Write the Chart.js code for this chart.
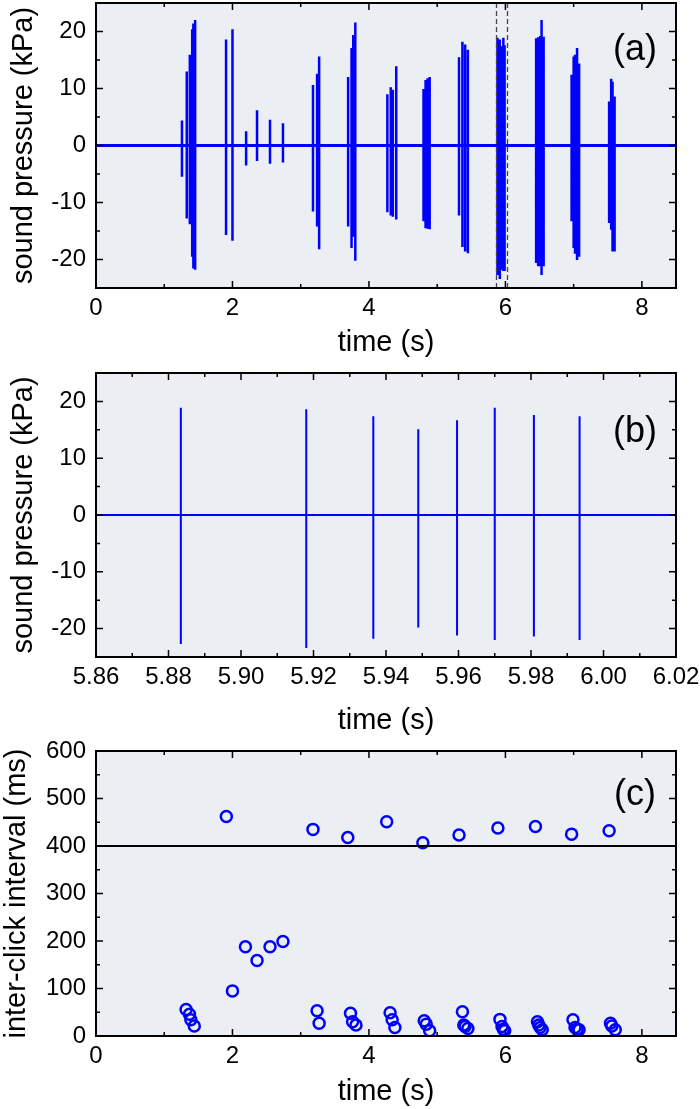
<!DOCTYPE html>
<html>
<head>
<meta charset="utf-8">
<script src="https://cdn.jsdelivr.net/npm/chart.js@4.4.1/dist/chart.umd.min.js"></script>
<style>
  body { margin: 0; background: #fff; }
  #wrap { position: relative; width: 700px; height: 1109px; }
  canvas { position: absolute; left: 0; }
</style>
</head>
<body>
<div id="wrap">
  <canvas id="graficoA" width="700" height="360" style="top:0px"></canvas>
  <canvas id="graficoB" width="700" height="380" style="top:360px"></canvas>
  <canvas id="graficoC" width="700" height="369" style="top:740px"></canvas>
</div>
<script>
// (a) clicks over the whole recording: time (s), peak and trough (kPa)
const clickTimesA = [1.26, 1.33, 1.375, 1.41, 1.427, 1.453, 1.906, 2.00, 2.20, 2.36, 2.55, 2.74,
    3.18, 3.24, 3.27, 3.695, 3.745, 3.77, 3.80, 4.27, 4.32, 4.35, 4.40, 4.80, 4.83, 4.86, 4.89,
    5.32, 5.37, 5.41, 5.45, 5.883, 5.918, 5.937, 5.949, 5.960, 5.970, 5.981, 5.993,
    6.45, 6.48, 6.51, 6.53, 6.56, 6.97, 7.00, 7.02, 7.05, 7.08, 7.52, 7.55, 7.57, 7.60];
const clickMaxA = [4.4, 13.0, 15.9, 20.4, 21.4, 22.0, 18.6, 20.4, 2.5, 6.2, 4.5, 3.9,
    10.6, 12.6, 15.6, 12.0, 17.1, 19.4, 21.6, 9.0, 10.2, 9.8, 13.9, 9.9, 11.5, 11.8, 12.0,
    15.5, 18.2, 17.7, 16.8, 18.9, 18.6, 17.4, 15.1, 16.7, 18.9, 17.6, 17.4,
    18.8, 19.0, 19.2, 22.0, 19.1, 12.4, 15.6, 15.9, 17.1, 14.4, 7.7, 11.7, 11.2, 8.6];
const clickMinA = [-5.5, -12.8, -13.8, -19.5, -21.6, -21.8, -15.7, -16.7, -3.5, -2.7, -3.2, -3.0,
    -11.6, -14.2, -18.2, -14.2, -18.0, -16.0, -20.2, -11.7, -12.3, -12.5, -13.0, -13.3, -14.5, -14.6, -14.7,
    -12.3, -17.8, -18.6, -18.9, -22.7, -23.4, -21.8, -19.8, -21.2, -22.0, -21.4, -22.0,
    -20.6, -21.2, -21.2, -22.7, -21.2, -13.3, -18.0, -19.0, -20.1, -19.5, -13.6, -14.8, -18.6, -18.6];
const zoomWindow = [5.86, 6.02];

// (b) zoom on one burst
const clickTimesB = [5.8834, 5.9180, 5.9365, 5.9489, 5.9596, 5.9700, 5.9808, 5.9934];
const clickMaxB = [18.9, 18.6, 17.4, 15.1, 16.7, 18.9, 17.6, 17.4];
const clickMinB = [-22.7, -23.4, -21.8, -19.8, -21.2, -22.0, -21.4, -22.0];

// (c) inter-click intervals
const intervalTimes = [1.32, 1.37, 1.39, 1.44, 1.91, 2.00, 2.19, 2.36, 2.55, 2.74, 3.18, 3.24, 3.27,
    3.69, 3.73, 3.76, 3.81, 4.26, 4.31, 4.34, 4.38, 4.79, 4.81, 4.84, 4.89, 5.32, 5.37, 5.39, 5.41, 5.45,
    5.89, 5.92, 5.95, 5.97, 5.99, 6.44, 6.47, 6.49, 6.51, 6.54, 6.97, 6.99, 7.02, 7.05, 7.08,
    7.52, 7.54, 7.56, 7.61];
const intervalValues = [56, 46, 34, 21, 462, 95, 188, 159, 188, 199, 435, 53, 27,
    418, 48, 30, 23, 451, 49, 34, 18, 407, 32, 25, 11, 423, 51, 23, 20, 16,
    438, 35, 20, 14, 11, 441, 30, 23, 18, 13, 425, 34, 18, 14, 13,
    432, 27, 21, 13];
const thresholdValue = 400;

// tick labels
const timeTicks = [0, 2, 4, 6, 8];
const zoomTimeTicks = [5.86, 5.88, 5.90, 5.92, 5.94, 5.96, 5.98, 6.00, 6.02];
const pressureTicks = [-20, -10, 0, 10, 20];
const intervalTicks = [0, 100, 200, 300, 400, 500, 600];

const azul = "#0000ff";
const fundo = "#ebeef3";

Chart.defaults.font.family = "'Liberation Sans', Arial, sans-serif";
Chart.defaults.color = "#000";

// frame, inward ticks (major + minor), panel letter and dashed window
const molduraPlugin = {
    id: "moldura",
    beforeDraw(chart) {
        const { ctx, chartArea: a } = chart;
        ctx.save();
        ctx.fillStyle = fundo;
        ctx.fillRect(a.left, a.top, a.right - a.left, a.bottom - a.top);
        ctx.restore();
    },
    afterDatasetsDraw(chart, args, opts) {
        if (!opts.tracejado) return;
        const { ctx, chartArea: a, scales } = chart;
        ctx.save();
        ctx.strokeStyle = "#444";
        ctx.lineWidth = 1.3;
        ctx.setLineDash([5, 3]);
        opts.tracejado.forEach(v => {
            const px = Math.round(scales.x.getPixelForValue(v)) + 0.5;
            ctx.beginPath();
            ctx.moveTo(px, a.top);
            ctx.lineTo(px, a.bottom);
            ctx.stroke();
        });
        ctx.restore();
    },
    afterDraw(chart, args, opts) {
        const { ctx, chartArea: a, scales } = chart;
        ctx.save();
        ctx.strokeStyle = "#000";
        ctx.lineWidth = 1.5;
        ctx.beginPath();
        marcas(scales.x).forEach(([v, len]) => {
            const px = scales.x.getPixelForValue(v);
            ctx.moveTo(px, a.bottom); ctx.lineTo(px, a.bottom - len);
            ctx.moveTo(px, a.top); ctx.lineTo(px, a.top + len);
        });
        marcas(scales.y).forEach(([v, len]) => {
            const py = scales.y.getPixelForValue(v);
            ctx.moveTo(a.left, py); ctx.lineTo(a.left + len, py);
            ctx.moveTo(a.right, py); ctx.lineTo(a.right - len, py);
        });
        ctx.stroke();
        ctx.lineWidth = 2;
        ctx.strokeRect(a.left, a.top, a.right - a.left, a.bottom - a.top);

        ctx.fillStyle = "#000";
        ctx.font = "36px 'Liberation Sans', Arial, sans-serif";
        ctx.textAlign = "center";
        ctx.textBaseline = "middle";
        ctx.fillText(opts.rotulo, a.right - 41, a.top + opts.rotuloY);
        ctx.restore();
    }
};

function marcas(scale) {
    const valores = scale.ticks.map(t => t.value);
    const lista = valores.map(v => [v, 7]);
    for (let i = 0; i < valores.length - 1; i++) {
        lista.push([(valores[i] + valores[i + 1]) / 2, 4]);
    }
    return lista;
}

function montarOnda(times, maxs, mins, tMin, tMax) {
    const pontos = [{ x: tMin, y: 0 }];
    times.forEach((t, i) => {
        pontos.push({ x: t, y: 0 }, { x: t, y: maxs[i] }, { x: t, y: mins[i] }, { x: t, y: 0 });
    });
    pontos.push({ x: tMax, y: 0 });
    return pontos;
}

function eixoX(min, max, valoresTicks, altura, tituloBottom, casas) {
    return {
        type: "linear",
        min: min,
        max: max,
        afterBuildTicks: scale => {
            scale.ticks = valoresTicks.map(v => ({ value: v }));
        },
        afterFit: scale => {
            scale.height = altura;
            scale.paddingLeft = 0;
            scale.paddingRight = 0;
        },
        ticks: {
            padding: 6,
            font: { size: 24 },
            callback: v => casas ? Number(v).toFixed(casas) : String(v)
        },
        grid: { display: false, drawTicks: false },
        border: { display: false },
        title: {
            display: true,
            text: "time (s)",
            font: { size: 29 },
            padding: { top: 0, bottom: tituloBottom }
        }
    };
}

function eixoY(min, max, valoresTicks, texto, tituloTop) {
    return {
        type: "linear",
        min: min,
        max: max,
        afterBuildTicks: scale => {
            scale.ticks = valoresTicks.map(v => ({ value: v }));
        },
        afterFit: scale => {
            scale.width = 96;
            scale.paddingTop = 0;
            scale.paddingBottom = 0;
        },
        ticks: {
            padding: 10,
            font: { size: 24 },
            callback: v => String(v)
        },
        grid: { display: false, drawTicks: false },
        border: { display: false },
        title: {
            display: true,
            text: texto,
            font: { size: 29 },
            padding: { top: tituloTop, bottom: 0 }
        }
    };
}

function opcoesBase(padTop, scales, moldura) {
    return {
        responsive: false,
        animation: false,
        events: [],
        layout: { padding: { top: padTop, right: 24, bottom: 0, left: 0 } },
        plugins: {
            legend: { display: false },
            tooltip: { enabled: false },
            moldura: moldura
        },
        scales: scales
    };
}

function criarGraficoA() {
    const ctx = document.getElementById("graficoA").getContext("2d");
    new Chart(ctx, {
        type: "line",
        data: {
            datasets: [{
                data: [{ x: 0, y: 0 }, { x: 8.5, y: 0 }],
                borderColor: azul,
                borderWidth: 3,
                pointRadius: 0
            }, {
                data: montarOnda(clickTimesA, clickMaxA, clickMinA, 0, 8.5),
                borderColor: azul,
                borderWidth: 2.5,
                pointRadius: 0,
                tension: 0
            }]
        },
        options: opcoesBase(3, {
            x: eixoX(0, 8.5, timeTicks, 72, 0, 0),
            y: eixoY(-25, 25, pressureTicks, "sound pressure (kPa)", 7)
        }, { rotulo: "(a)", rotuloY: 47, tracejado: zoomWindow }),
        plugins: [molduraPlugin]
    });
}

function criarGraficoB() {
    const ctx = document.getElementById("graficoB").getContext("2d");
    new Chart(ctx, {
        type: "line",
        data: {
            datasets: [{
                data: montarOnda(clickTimesB, clickMaxB, clickMinB, 5.86, 6.02),
                borderColor: azul,
                borderWidth: 2,
                pointRadius: 0,
                tension: 0
            }]
        },
        options: opcoesBase(13, {
            x: eixoX(5.86, 6.02, zoomTimeTicks, 83, 2, 2),
            y: eixoY(-25, 25, pressureTicks, "sound pressure (kPa)", 7)
        }, { rotulo: "(b)", rotuloY: 59 }),
        plugins: [molduraPlugin]
    });
}

function criarGraficoC() {
    const ctx = document.getElementById("graficoC").getContext("2d");
    const pontos = intervalTimes.map((t, i) => ({ x: t, y: intervalValues[i] }));
    new Chart(ctx, {
        type: "scatter",
        data: {
            datasets: [{
                type: "line",
                data: [{ x: 0, y: thresholdValue }, { x: 8.5, y: thresholdValue }],
                borderColor: "#000",
                borderWidth: 2,
                pointRadius: 0
            }, {
                data: pontos,
                borderColor: azul,
                backgroundColor: "rgba(0,0,0,0)",
                borderWidth: 2.5,
                pointRadius: 5.5,
                pointStyle: "circle"
            }]
        },
        options: opcoesBase(11, {
            x: eixoX(0, 8.5, timeTicks, 73, 0, 0),
            y: eixoY(0, 600, intervalTicks, "inter-click interval (ms)", 0)
        }, { rotulo: "(c)", rotuloY: 44 }),
        plugins: [molduraPlugin]
    });
}

document.addEventListener("DOMContentLoaded", function () {
    criarGraficoA();
    criarGraficoB();
    criarGraficoC();
});
</script>
</body>
</html>
